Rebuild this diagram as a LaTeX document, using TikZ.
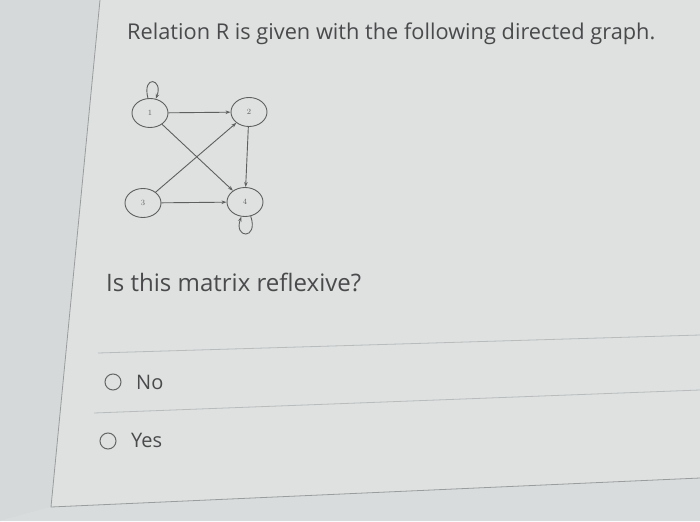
\documentclass[tikz,border=0pt]{standalone}
\usepackage{fontspec}
\setmainfont{Open Sans}
\newfontfamily\lmserif{Latin Modern Roman}
\usetikzlibrary{arrows.meta,shapes.geometric}
\definecolor{bgc}{HTML}{DEE1E0}
\definecolor{bgl}{HTML}{D5D9D9}
\definecolor{txt}{HTML}{4A4A4C}
\definecolor{gline}{HTML}{5E6060}
\definecolor{rule}{HTML}{B9BCBC}
\definecolor{frame}{HTML}{9A9D9D}
\tikzset{
  vtx/.style={draw=gline, line width=0.9pt, ellipse, minimum width=36pt, minimum height=29pt, inner sep=0pt, font=\lmserif\fontsize{8}{9}\selectfont, text=gline},
  edge/.style={draw=gline, line width=0.9pt, -{Stealth[length=5pt,width=3.5pt]}},
  sep/.style={draw=rule, line width=0.8pt},
  qtext/.style={text=txt, anchor=base west, inner sep=0pt},
  radio/.style={draw=gray!80!black, line width=1pt, circle, minimum size=16pt, inner sep=0pt}
}
\begin{document}
\begin{tikzpicture}[x=1pt,y=-1pt]
\useasboundingbox (0,0) rectangle (700,521);
\fill[bgc] (0,0) rectangle (700,521);
\fill[bgl] (0,0) -- (100,0) -- (51,507) -- (0,521) -- cycle;
\fill[bgl!60!bgc] (51,507) -- (700,478) -- (700,521) -- (0,521) -- cycle;
% frame lines
\coordinate (tl) at (100,0);
\coordinate (bl) at (51,507);
\coordinate (br) at (700,478);
\draw[draw=frame, line width=0.8pt] (tl) -- (bl) -- (br);
\coordinate (s1a) at (98,353);
\coordinate (s1b) at (700,335);
\coordinate (s2a) at (94,413);
\coordinate (s2b) at (700,390);
\draw[sep] (s1a) -- (s1b);
\draw[sep] (s2a) -- (s2b);
% title
\node[qtext] (title) at (127,40) {\resizebox{528pt}{!}{Relation R is given with the following directed graph.}};
% graph
\node[vtx] (n1) at (150,113) {1};
\node[vtx] (n2) at (249,112) {2};
\node[vtx] (n3) at (143,203) {3};
\node[vtx] (n4) at (245,202) {4};
\draw[edge] (n1) -- (n2);
\draw[edge] (n1) -- (n4);
\draw[edge] (n3) -- (n2);
\draw[edge] (n3) -- (n4);
\draw[edge] (n2) -- (n4);
\draw[edge] (n1.98) .. controls +(-6,-24) and +(8,-20) .. (n1.68);
\draw[edge] (n4.-68) .. controls +(8,24) and +(-8,22) .. (n4.-104);
% question
\node[qtext] (q) at (106,291) {\resizebox{255pt}{!}{Is this matrix reflexive?}};
% options
\node[radio] (r1) at (113,382) {};
\node[qtext, anchor=west] (no) at (136,382) {\fontsize{20}{23}\selectfont No};
\node[radio] (r2) at (108,441) {};
\node[qtext, anchor=west] (yes) at (131,440) {\fontsize{20}{23}\selectfont Yes};
\end{tikzpicture}
\end{document}
